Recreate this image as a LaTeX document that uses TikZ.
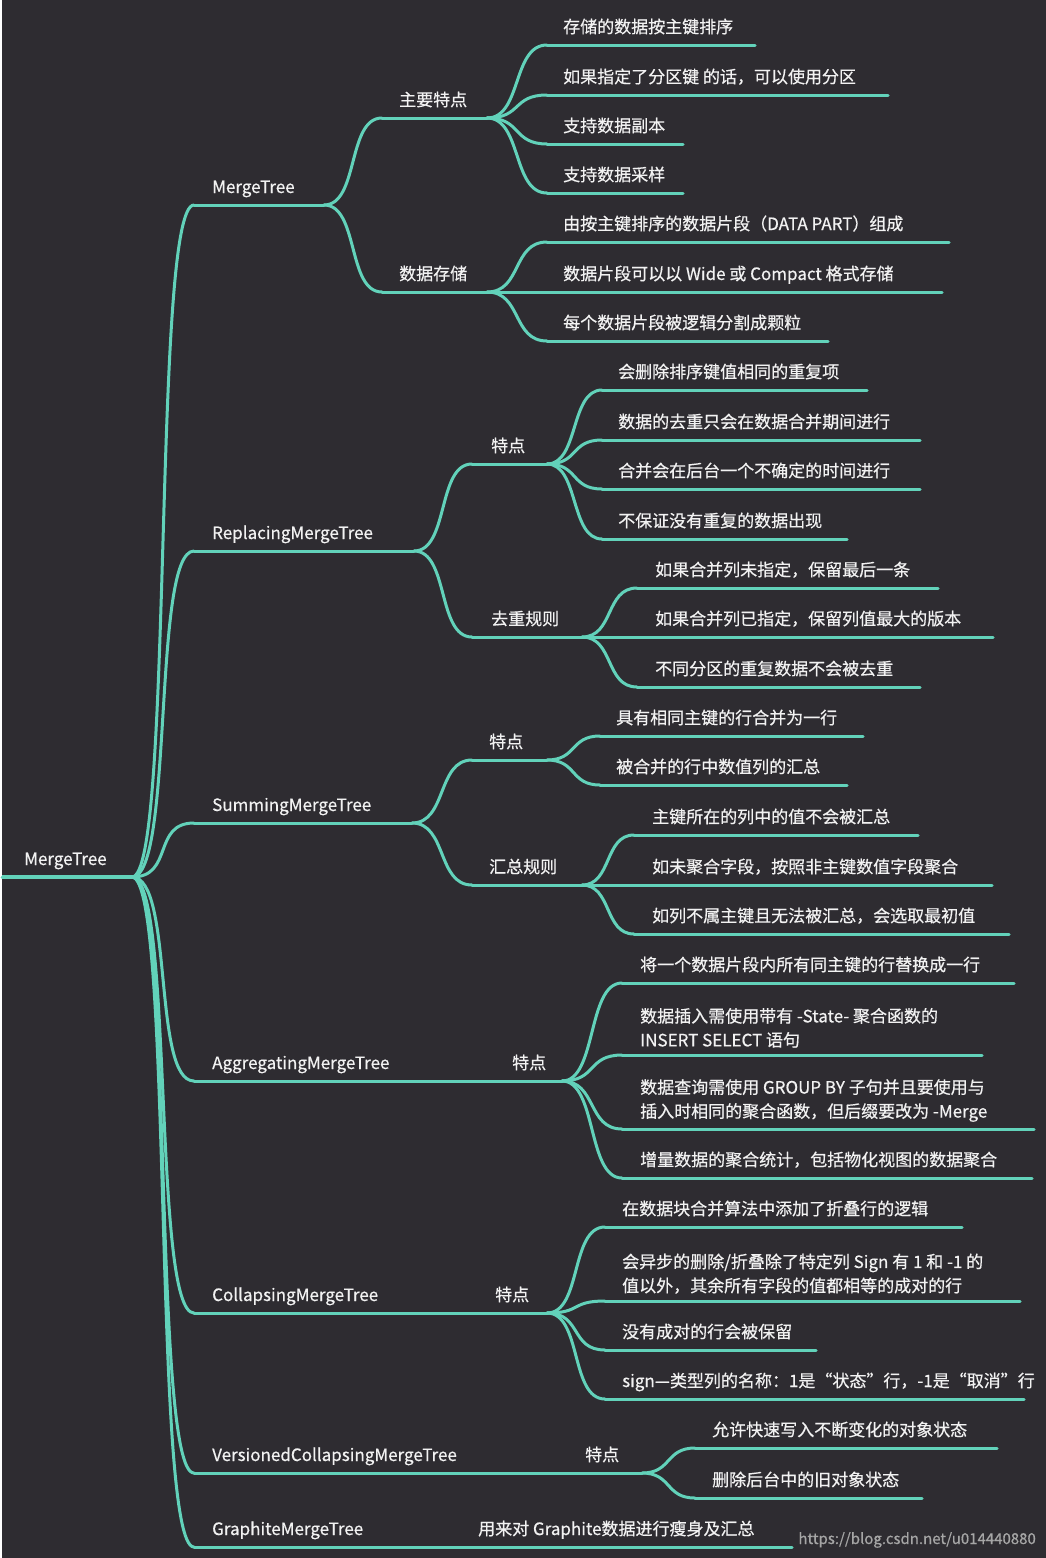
\documentclass[tikz,border=0pt]{standalone}
\usepackage{fontspec}
\setmainfont{Noto Sans CJK SC}[FakeBold=0.5]
\definecolor{mmbg}{HTML}{2E2C31}
\definecolor{mmteal}{HTML}{62D2BA}
\definecolor{mmfg}{HTML}{F2F2F2}
\tikzset{mmline/.style={draw=mmteal,line width=3pt,line cap=round},
  mmtext/.style={text=mmfg,inner sep=0pt,font=\fontsize{17}{24}\selectfont,align=left}}
% underline with its text: name, x start, x end, y, text x, text
\newcommand\mmnode[6]{%
  \coordinate (#1-s) at (#2,#4); \coordinate (#1-e) at (#3,#4);
  \draw[mmline] (#1-s) -- (#1-e);
  \node[mmtext,anchor=base west] (#1) at (#5,#4-12) {#6};}
% same, two lines of text
\newcommand\mmnodeii[6]{%
  \coordinate (#1-s) at (#2,#4); \coordinate (#1-e) at (#3,#4);
  \draw[mmline] (#1-s) -- (#1-e);
  \node[mmtext,anchor=south west] (#1) at (#5,#4-7) {#6};}
\newcommand\mmlink[3]{\draw[mmline] (#1-e) .. controls +(#3,0) and +(-#3,0) .. (#2-s);}
\begin{document}
\begin{tikzpicture}[x=1pt,y=-1pt]
  \fill[mmbg] (0,0) rectangle (1044,1558);

  \mmnode{root}{0}{130}{877}{22}{MergeTree}
  \draw[mmteal,line width=4pt] (root-s) -- (root-e);

  % first level
  \mmnode{mt}{192}{322}{205}{210}{MergeTree}
  \mmnode{rmt}{192}{412}{551}{210}{ReplacingMergeTree}
  \mmnode{smt}{192}{410}{823}{210}{SummingMergeTree}
  \mmnode{amt}{192}{500}{1081}{210}{AggregatingMergeTree}
  \mmnode{cmt}{192}{480}{1313}{210}{CollapsingMergeTree}
  \mmnode{vcmt}{192}{570}{1473}{210}{VersionedCollapsingMergeTree}
  \mmnode{gmt}{192}{460}{1547}{210}{GraphiteMergeTree}
  \foreach \n in {mt,rmt,smt,amt,cmt,vcmt,gmt} {\mmlink{root}{\n}{42}}

  % MergeTree
  \mmnode{mtf}{380}{485}{118}{397}{主要特点}
  \mmnode{mts}{380}{485}{292}{397}{数据存储}
  \mmlink{mt}{mtf}{35} \mmlink{mt}{mts}{35}
  \mmnode{mtf1}{545}{753}{45}{561}{存储的数据按主键排序}
  \mmnode{mtf2}{545}{886}{95}{561}{如果指定了分区键 的话，可以使用分区}
  \mmnode{mtf3}{545}{681}{144}{561}{支持数据副本}
  \mmnode{mtf4}{545}{681}{193}{561}{支持数据采样}
  \foreach \n in {mtf1,mtf2,mtf3,mtf4} {\mmlink{mtf}{\n}{35}}
  \mmnode{mts1}{545}{947}{242}{561}{由按主键排序的数据片段（DATA PART）组成}
  \mmnode{mts2}{545}{940}{292}{561}{数据片段可以以 Wide 或 Compact 格式存储}
  \mmnode{mts3}{545}{826}{341}{561}{每个数据片段被逻辑分割成颗粒}
  \foreach \n in {mts1,mts2,mts3} {\mmlink{mts}{\n}{35}}

  % ReplacingMergeTree
  \mmnode{rf}{470}{545}{464}{489}{特点}
  \mmnode{rr}{470}{580}{637}{489}{去重规则}
  \mmlink{rmt}{rf}{35} \mmlink{rmt}{rr}{35}
  \mmnode{rf1}{600}{865}{390}{616}{会删除排序键值相同的重复项}
  \mmnode{rf2}{600}{918}{440}{616}{数据的去重只会在数据合并期间进行}
  \mmnode{rf3}{600}{918}{489}{616}{合并会在后台一个不确定的时间进行}
  \mmnode{rf4}{600}{845}{539}{616}{不保证没有重复的数据出现}
  \foreach \n in {rf1,rf2,rf3,rf4} {\mmlink{rf}{\n}{32}}
  \mmnode{rr1}{635}{936}{588}{653}{如果合并列未指定，保留最后一条}
  \mmnode{rr2}{635}{991}{637}{653}{如果合并列已指定，保留列值最大的版本}
  \mmnode{rr3}{635}{918}{687}{653}{不同分区的重复数据不会被去重}
  \foreach \n in {rr1,rr2,rr3} {\mmlink{rr}{\n}{32}}

  % SummingMergeTree
  \mmnode{sf}{470}{545}{760}{487}{特点}
  \mmnode{sr}{470}{580}{885}{487}{汇总规则}
  \mmlink{smt}{sf}{35} \mmlink{smt}{sr}{35}
  \mmnode{sf1}{598}{861}{736}{614}{具有相同主键的行合并为一行}
  \mmnode{sf2}{598}{845}{785}{614}{被合并的行中数值列的汇总}
  \foreach \n in {sf1,sf2} {\mmlink{sf}{\n}{30}}
  \mmnode{sr1}{632}{916}{835}{650}{主键所在的列中的值不会被汇总}
  \mmnode{sr2}{632}{990}{885}{650}{如未聚合字段，按照非主键数值字段聚合}
  \mmnode{sr3}{632}{1007}{934}{650}{如列不属主键且无法被汇总，会选取最初值}
  \foreach \n in {sr1,sr2,sr3} {\mmlink{sr}{\n}{30}}

  % AggregatingMergeTree
  \mmnode{af}{500}{560}{1081}{510}{特点}
  \mmnode{af1}{620}{1012}{983}{638}{将一个数据片段内所有同主键的行替换成一行}
  \mmnodeii{af2}{620}{980}{1055}{638}{数据插入需使用带有 -State- 聚合函数的\\INSERT SELECT 语句}
  \mmnodeii{af3}{620}{1032}{1129}{638}{数据查询需使用 GROUP BY 子句并且要使用与\\插入时相同的聚合函数，但后缀要改为 -Merge}
  \mmnode{af4}{620}{1030}{1178}{638}{增量数据的聚合统计，包括物化视图的数据聚合}
  \foreach \n in {af1,af2,af3,af4} {\mmlink{af}{\n}{35}}

  % CollapsingMergeTree
  \mmnode{cf}{480}{545}{1313}{493}{特点}
  \mmnode{cf1}{603}{960}{1227}{620}{在数据块合并算法中添加了折叠行的逻辑}
  \mmnodeii{cf2}{603}{1018}{1301}{620}{会异步的删除/折叠除了特定列 Sign 有 1 和 -1 的\\值以外，其余所有字段的值都相等的成对的行}
  \mmnode{cf3}{603}{814}{1350}{620}{没有成对的行会被保留}
  \mmnode{cf4}{603}{1022}{1399}{620}{sign—类型列的名称：1是“状态”行，-1是“取消”行}
  \foreach \n in {cf1,cf2,cf3,cf4} {\mmlink{cf}{\n}{35}}

  % VersionedCollapsingMergeTree
  \mmnode{vf}{570}{640}{1473}{583}{特点}
  \mmnode{vf1}{693}{995}{1448}{710}{允许快速写入不断变化的对象状态}
  \mmnode{vf2}{693}{920}{1498}{710}{删除后台中的旧对象状态}
  \foreach \n in {vf1,vf2} {\mmlink{vf}{\n}{30}}

  % GraphiteMergeTree
  \mmnode{gf}{460}{790}{1547}{476}{用来对 Graphite数据进行瘦身及汇总}

  \node[text=gray!70,inner sep=0pt,font=\fontsize{15}{18}\selectfont,anchor=base east] (wm) at (1034,1544) {https://blog.csdn.net/u014440880};
\end{tikzpicture}
\end{document}
